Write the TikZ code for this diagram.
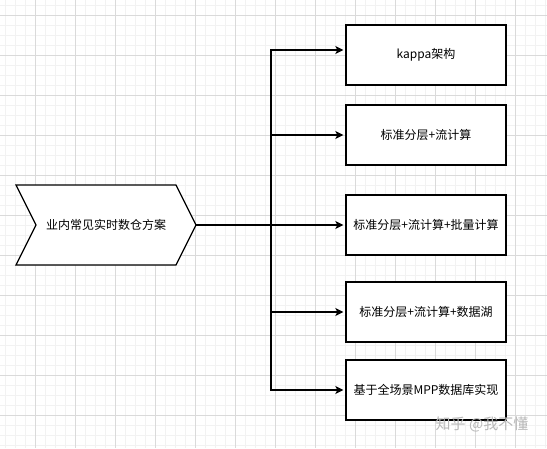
\documentclass[tikz,border=0pt]{standalone}
\usepackage{fontspec}
\newfontfamily\cjk{Noto Sans CJK SC}
\usetikzlibrary{arrows.meta}
\definecolor{minorgrid}{HTML}{F2F2F2}
\definecolor{majorgrid}{HTML}{DADADA}
\definecolor{wmark}{HTML}{B8B8B8}
\begin{document}
\begin{tikzpicture}[x=1pt,y=-1pt,
  minorline/.style={draw=minorgrid,line width=0.8pt},
  majorline/.style={draw=majorgrid,line width=0.9pt},
  boxnode/.style={draw=black,line width=1.3pt,fill=white,minimum width=160pt,minimum height=60pt,inner sep=0pt,font=\cjk\fontsize{12pt}{14pt}\selectfont},
  chev/.style={draw=black,line width=1.3pt,fill=white,line join=miter},
  conn/.style={draw=black,line width=1.3pt},
  arr/.style={conn,-{Stealth[length=8pt,width=8pt,inset=2pt]},shorten >=2pt},
  lbl/.style={font=\cjk\fontsize{12pt}{14pt}\selectfont,inner sep=0pt},
  wm/.style={font=\cjk\fontsize{15pt}{17pt}\selectfont,text=wmark,inner sep=0pt}]
\useasboundingbox (0,0) rectangle (547,448);
\fill[white] (0,0) rectangle (547,448);
% grid
\foreach \x in {5,15,...,545} \draw[minorline] (\x,0) -- (\x,448);
\foreach \y in {5,15,...,445} \draw[minorline] (0,\y) -- (547,\y);
\foreach \x in {35,75,...,515} \draw[majorline] (\x,0) -- (\x,448);
\foreach \y in {15,55,...,415} \draw[majorline] (0,\y) -- (547,\y);
% chevron
\draw[chev] (16,185) -- (176,185) -- (196,225) -- (176,265) -- (16,265) -- (36,225) -- cycle;
\node[lbl] (src) at (106,225) {业内常见实时数仓方案};
\coordinate (tip) at (196,225);
\coordinate (j) at (271,225);
% boxes
\node[boxnode] (b1) at (426,55) {kappa架构};
\node[boxnode] (b2) at (426,135) {标准分层+流计算};
\node[boxnode] (b3) at (426,225) {标准分层+流计算+批量计算};
\node[boxnode] (b4) at (426,312) {标准分层+流计算+数据湖};
\node[boxnode] (b5) at (426,390) {基于全场景MPP数据库实现};
% connectors
\draw[conn] (tip) -- (j);
\draw[arr] (j) |- ([yshift=5pt]b1.west);
\draw[arr] (j) |- (b2.west);
\draw[arr] (j) -- (b3.west);
\draw[arr] (j) |- (b4.west);
\draw[arr] (j) |- (b5.west);
% watermark
\node[wm] (wmk) at (482,424) {知乎 @我不懂};
\end{tikzpicture}
\end{document}
